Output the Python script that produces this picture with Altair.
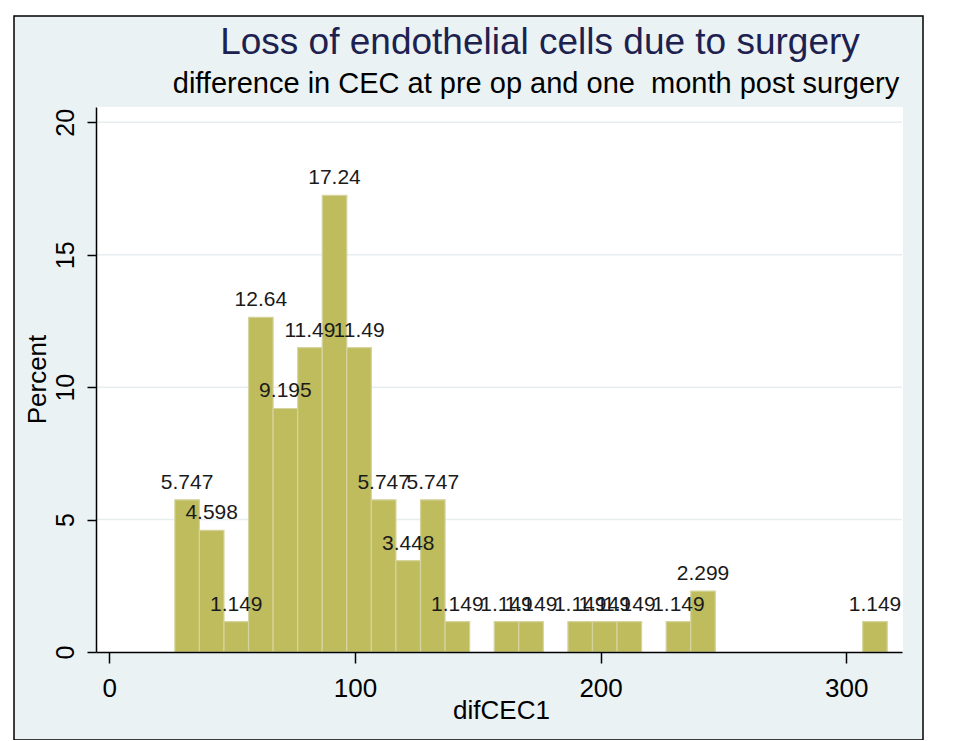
import altair as alt
import pandas as pd

# ---- data ----
bin_lo = [26.7, 36.7, 46.7, 56.7, 66.7, 76.7, 86.7, 96.7, 106.7, 116.7,
          126.7, 136.7, 156.7, 166.7, 186.7, 196.7, 206.7, 226.7, 236.7, 306.7]
percent = [5.747, 4.598, 1.149, 12.64, 9.195, 11.49, 17.24, 11.49, 5.747, 3.448,
           5.747, 1.149, 1.149, 1.149, 1.149, 1.149, 1.149, 1.149, 2.299, 1.149]
BIN_WIDTH = 10
x_ticks = [0, 100, 200, 300]
y_ticks = [0, 5, 10, 15, 20]
grid_vals = [5, 10, 15, 20]
TITLE = "Loss of endothelial cells due to surgery"
SUBTITLE = "difference in CEC at pre op and one\u00a0 month post surgery"

df = pd.DataFrame({"lo": bin_lo, "pct": percent})
df["hi"] = df["lo"] + BIN_WIDTH
df["mid"] = df["lo"] + BIN_WIDTH / 2

FONT = "Liberation Sans"
W, H = 806, 545

xscale = alt.Scale(domain=[-5.4, 322.7], nice=False, zero=False)
yscale = alt.Scale(domain=[0, 20.58], nice=False, zero=False)

xaxis = alt.Axis(values=x_ticks, title="difCEC1", grid=False, format="d",
                 domainColor="black", domainWidth=1.5, tickColor="black",
                 tickWidth=1.5, tickSize=11, labelFontSize=26, labelFont=FONT,
                 labelColor="black", labelPadding=33, labelBaseline="alphabetic",
                 labelFlush=False, titleFontSize=26, titleFont=FONT,
                 titleFontWeight="normal", titleColor="black", titleX=405,
                 titleY=66, titleBaseline="alphabetic", titleAlign="center",
                 zindex=1)
yaxis = alt.Axis(values=y_ticks, title="Percent", grid=False, format="d",
                 domainColor="black", domainWidth=1.5, tickColor="black",
                 tickWidth=1.5, tickSize=9, labelFontSize=25, labelFont=FONT,
                 labelColor="black", labelAngle=270, labelAlign="center",
                 labelBaseline="alphabetic", labelPadding=14, labelFlush=False,
                 titleFontSize=26, titleFont=FONT, titleFontWeight="normal",
                 titleColor="black", titleAngle=270, titleX=-51, titleY=272,
                 titleBaseline="alphabetic", titleAlign="center", zindex=1)

one = alt.Data(values=[{"k": 1}])

frame = alt.Chart(one).mark_rect(fill="#EAF2F3", stroke="black", strokeWidth=1.5).encode(
    x=alt.value(-82), x2=alt.value(827), y=alt.value(-91), y2=alt.value(633))

plotbg = alt.Chart(one).mark_rect(fill="white").encode(
    x=alt.value(0), x2=alt.value(W + 1), y=alt.value(0), y2=alt.value(H))

title_txt = alt.Chart(one).mark_text(text=TITLE, font=FONT, fontSize=37,
                                     color="#1D2150", align="center",
                                     baseline="alphabetic").encode(
    x=alt.value(444), y=alt.value(-53))

subtitle_txt = alt.Chart(one).mark_text(text=SUBTITLE, font=FONT, fontSize=29,
                                        color="black", align="center",
                                        baseline="alphabetic").encode(
    x=alt.value(440), y=alt.value(-14))

grid = alt.Chart(pd.DataFrame({"pct": grid_vals})).mark_rule(
    color="#E6EEF0", strokeWidth=1.5).encode(
    y=alt.Y("pct:Q", scale=yscale), x=alt.value(0), x2=alt.value(W))

bars = alt.Chart(df).mark_rect(fill="#BFBC5E", stroke="#D6D49E", strokeWidth=1.2).encode(
    x=alt.X("lo:Q", scale=xscale, axis=xaxis),
    x2="hi:Q",
    y=alt.Y("pct:Q", scale=yscale, axis=yaxis),
    y2=alt.datum(0),
)

labels = alt.Chart(df).mark_text(baseline="alphabetic", align="center", dy=-11,
                                 fontSize=21, font=FONT, color="#1a1a1a").encode(
    x=alt.X("mid:Q", scale=xscale),
    y=alt.Y("pct:Q", scale=yscale),
    text=alt.Text("pct:Q", format=".4"),
)

chart = alt.layer(frame, plotbg, title_txt, subtitle_txt, grid, bars, labels).properties(
    width=W, height=H,
    autosize=alt.AutoSizeParams(type="none"),
    padding={"left": 88, "top": 99, "right": 30, "bottom": 88},
    background="white",
).configure_view(stroke=None)

chart.save("out.html", embed_options={"renderer": "svg", "actions": False})
